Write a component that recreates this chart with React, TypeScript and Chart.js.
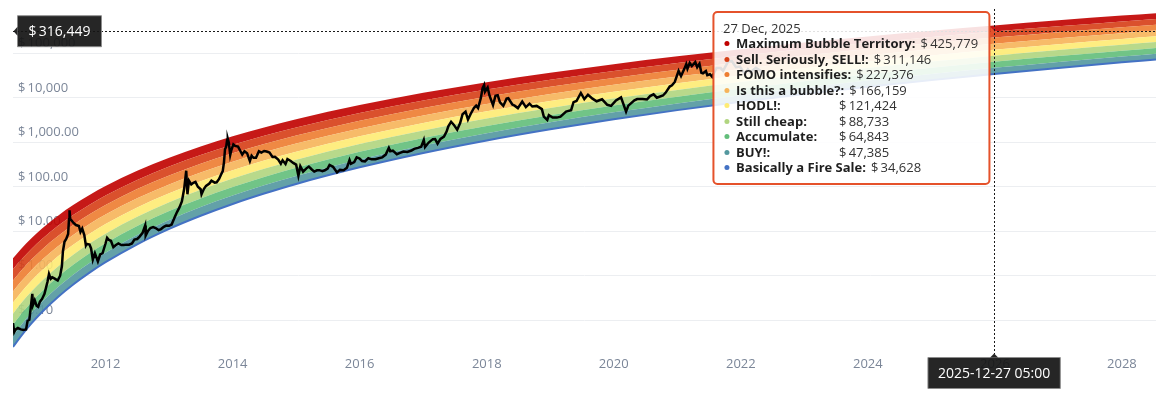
import React, { useEffect, useRef, useState } from "react";
import { Chart, registerables } from "chart.js";

Chart.register(...registerables);

const FONT = "'Open Sans', 'Noto Sans', sans-serif";

// ---- Rainbow band boundary values ----
const bandDates = [
  "2010-07-18", "2010-09-01", "2010-11-01", "2011-01-01", "2011-04-01", "2011-07-01", "2011-10-01",
  "2012-01-01", "2012-07-01", "2013-01-01", "2013-07-01", "2014-01-01", "2014-07-01", "2015-01-01",
  "2016-01-01", "2017-01-01", "2018-01-01", "2019-01-01", "2020-01-01", "2021-01-01", "2022-01-01",
  "2023-01-01", "2024-01-01", "2025-01-01", "2025-12-27", "2027-01-01", "2028-01-01", "2028-07-15",
];
const fireSale = [0.025, 0.0433, 0.0843, 0.152, 0.327, 0.641, 1.17, 2.01, 5.09, 11.3, 22.3, 41.1, 70.4, 116, 274, 577, 1104, 1966, 3306, 5311, 8193, 12227, 17734, 25117, 34628, 47250, 63112, 73259];
const buy = [0.0444, 0.0762, 0.146, 0.261, 0.553, 1.07, 1.94, 3.29, 8.19, 17.9, 34.9, 63.6, 108, 176, 411, 851, 1610, 2836, 4725, 7524, 11514, 17056, 24569, 34575, 47385, 64289, 85413, 98874];
const accumulate = [0.0788, 0.134, 0.254, 0.449, 0.937, 1.79, 3.21, 5.39, 13.2, 28.4, 54.7, 98.6, 166, 267, 614, 1256, 2347, 4092, 6751, 10657, 16180, 23792, 34038, 47595, 64843, 87471, 115595, 133442];
const stillCheap = [0.14, 0.236, 0.441, 0.771, 1.59, 3.0, 5.3, 8.84, 21.2, 45.1, 85.7, 153, 254, 406, 919, 1854, 3422, 5904, 9648, 15097, 22737, 33187, 47156, 65514, 88733, 119012, 156441, 180103];
const hodl = [0.248, 0.414, 0.767, 1.32, 2.69, 5.02, 8.77, 14.5, 34.2, 71.5, 134, 237, 390, 618, 1374, 2736, 4990, 8518, 13786, 21385, 31951, 46293, 65330, 90182, 121424, 161930, 211723, 243077];
const isBubble = [0.441, 0.728, 1.33, 2.27, 4.55, 8.39, 14.5, 23.7, 55.1, 113, 210, 367, 598, 939, 2056, 4037, 7277, 12288, 19700, 30292, 44900, 64576, 90507, 124139, 166159, 220323, 286537, 328066];
const fomo = [0.784, 1.28, 2.31, 3.91, 7.71, 14.0, 24.0, 38.8, 88.7, 180, 330, 568, 918, 1427, 3076, 5958, 10610, 17729, 28150, 42910, 63095, 90079, 125385, 170884, 227376, 299767, 387787, 442777];
const sell = [1.39, 2.25, 4.01, 6.71, 13.1, 23.5, 39.7, 63.6, 143, 286, 517, 880, 1408, 2169, 4602, 8791, 15471, 25577, 40225, 60782, 88665, 125651, 173713, 235230, 311146, 407864, 524811, 597587];
const maxBubble = [2.47, 3.95, 6.97, 11.5, 22.1, 39.3, 65.7, 104, 230, 453, 810, 1364, 2159, 3297, 6885, 12973, 22559, 36900, 57480, 86100, 124596, 175276, 240660, 323797, 425779, 554940, 710252, 806531];

const bandNames = [
  "Basically a Fire Sale", "BUY!", "Accumulate", "Still cheap", "HODL!",
  "Is this a bubble?", "FOMO intensifies", "Sell. Seriously, SELL!", "Maximum Bubble Territory",
];
const bandColors = ["#4472c4", "#54989f", "#63be7b", "#b1d580", "#feeb74", "#f6b45a", "#ed7d31", "#d64018", "#c00200"];
const bandSeries = [fireSale, buy, accumulate, stillCheap, hodl, isBubble, fomo, sell, maxBubble];

// ---- BTC price ----
const btcDates = [
  "2010-07-18", "2010-07-25", "2010-08-01", "2010-08-15", "2010-09-01", "2010-09-15", "2010-10-01", "2010-10-10",
  "2010-10-20", "2010-10-28", "2010-11-06", "2010-11-10", "2010-11-20", "2010-12-01", "2010-12-10", "2010-12-20",
  "2011-01-01", "2011-01-15", "2011-02-01", "2011-02-10", "2011-02-20", "2011-03-01", "2011-03-15", "2011-04-01",
  "2011-04-15", "2011-04-25", "2011-05-01", "2011-05-10", "2011-05-20", "2011-05-31", "2011-06-05", "2011-06-08",
  "2011-06-12", "2011-06-20", "2011-07-01", "2011-07-15", "2011-08-01", "2011-08-10", "2011-08-20", "2011-09-01",
  "2011-09-10", "2011-09-15", "2011-10-01", "2011-10-10", "2011-10-20", "2011-11-01", "2011-11-18", "2011-12-01",
  "2011-12-15", "2012-01-01", "2012-01-10", "2012-01-20", "2012-02-01", "2012-02-15", "2012-03-01", "2012-03-15",
  "2012-04-01", "2012-04-15", "2012-05-01", "2012-05-15", "2012-06-01", "2012-06-15", "2012-07-01", "2012-07-15",
  "2012-08-01", "2012-08-16", "2012-08-19", "2012-09-01", "2012-09-15", "2012-10-01", "2012-10-15", "2012-11-01",
  "2012-11-15", "2012-12-01", "2012-12-15", "2013-01-01", "2013-01-15", "2013-02-01", "2013-02-15", "2013-03-01",
  "2013-03-15", "2013-03-28", "2013-04-09", "2013-04-16", "2013-04-25", "2013-05-08", "2013-05-20", "2013-06-01",
  "2013-06-15", "2013-07-01", "2013-07-06", "2013-07-20", "2013-08-01", "2013-08-20", "2013-09-01", "2013-09-20",
  "2013-10-01", "2013-10-15", "2013-10-25", "2013-11-05", "2013-11-12", "2013-11-18", "2013-11-25", "2013-11-30",
  "2013-12-04", "2013-12-10", "2013-12-18", "2013-12-25", "2014-01-05", "2014-01-15", "2014-02-01", "2014-02-15",
  "2014-02-25", "2014-03-10", "2014-03-25", "2014-04-10", "2014-04-20", "2014-05-01", "2014-05-15", "2014-06-01",
  "2014-06-15", "2014-07-01", "2014-07-15", "2014-08-01", "2014-08-18", "2014-09-01", "2014-09-20", "2014-10-05",
  "2014-10-15", "2014-11-01", "2014-11-12", "2014-12-01", "2014-12-15", "2015-01-01", "2015-01-14", "2015-01-25",
  "2015-02-10", "2015-03-01", "2015-03-15", "2015-04-01", "2015-04-15", "2015-05-01", "2015-05-15", "2015-06-01",
  "2015-06-15", "2015-07-01", "2015-07-12", "2015-08-01", "2015-08-24", "2015-09-10", "2015-10-01", "2015-10-20",
  "2015-11-04", "2015-11-12", "2015-12-01", "2015-12-15", "2016-01-01", "2016-01-15", "2016-02-01", "2016-02-20",
  "2016-03-10", "2016-04-01", "2016-04-20", "2016-05-10", "2016-05-30", "2016-06-17", "2016-06-25", "2016-07-10",
  "2016-08-02", "2016-08-20", "2016-09-10", "2016-10-01", "2016-10-25", "2016-11-10", "2016-12-01", "2016-12-20",
  "2017-01-04", "2017-01-11", "2017-02-01", "2017-02-25", "2017-03-10", "2017-03-24", "2017-04-10", "2017-04-30",
  "2017-05-15", "2017-05-25", "2017-06-10", "2017-06-25", "2017-07-15", "2017-08-01", "2017-08-15", "2017-09-01",
  "2017-09-15", "2017-10-01", "2017-10-20", "2017-11-01", "2017-11-12", "2017-11-28", "2017-12-08", "2017-12-17",
  "2017-12-22", "2018-01-06", "2018-01-17", "2018-02-06", "2018-02-20", "2018-03-05", "2018-03-18", "2018-04-06",
  "2018-04-25", "2018-05-05", "2018-05-28", "2018-06-10", "2018-06-29", "2018-07-24", "2018-08-14", "2018-09-04",
  "2018-09-20", "2018-10-15", "2018-11-14", "2018-11-25", "2018-12-15", "2018-12-24", "2019-01-15", "2019-02-08",
  "2019-03-01", "2019-04-02", "2019-05-01", "2019-05-15", "2019-06-01", "2019-06-26", "2019-07-16", "2019-08-06",
  "2019-09-01", "2019-09-25", "2019-10-26", "2019-11-25", "2019-12-17", "2020-01-14", "2020-02-12", "2020-03-12",
  "2020-03-25", "2020-04-29", "2020-05-15", "2020-06-15", "2020-07-10", "2020-07-28", "2020-08-17", "2020-09-05",
  "2020-10-10", "2020-10-25", "2020-11-18", "2020-12-01", "2020-12-17", "2021-01-08", "2021-01-22", "2021-02-10",
  "2021-02-21", "2021-02-28", "2021-03-13", "2021-03-25", "2021-04-14", "2021-04-25", "2021-05-08", "2021-05-19",
  "2021-05-28", "2021-06-14", "2021-06-22", "2021-07-07", "2021-07-20", "2021-08-14", "2021-09-07", "2021-09-21",
  "2021-10-20", "2021-11-10", "2021-12-04", "2021-12-27", "2022-01-22", "2022-02-10", "2022-02-24", "2022-03-28",
  "2022-04-25", "2022-05-10",
];
const btcPrices = [
  0.086, 0.054, 0.061, 0.067, 0.062, 0.06, 0.062, 0.097,
  0.102, 0.19, 0.39, 0.22, 0.28, 0.21, 0.2, 0.26,
  0.3, 0.39, 0.72, 1.09, 0.85, 0.92, 0.86, 0.78,
  1.0, 1.63, 3.5, 5.8, 6.7, 8.7, 18.5, 29.6,
  19.0, 17.5, 15.4, 13.8, 13.1, 9.6, 11.5, 8.2,
  4.8, 5.2, 5.0, 4.1, 2.3, 3.2, 2.1, 3.0,
  3.2, 5.3, 7.1, 6.4, 6.1, 4.4, 4.9, 5.3,
  4.9, 4.9, 5.0, 5.0, 5.3, 6.5, 6.7, 7.6,
  9.2, 13.5, 8.0, 10.2, 11.8, 12.4, 11.8, 10.6,
  11.2, 12.6, 13.4, 13.3, 14.2, 20.4, 27.0, 34.3,
  47.0, 89, 230, 68, 137, 113, 123, 129,
  100, 88, 68, 90, 105, 118, 137, 124,
  126, 150, 185, 225, 355, 700, 800, 1130,
  1200, 980, 520, 680, 900, 830, 800, 630,
  530, 630, 570, 380, 500, 450, 450, 630,
  590, 640, 620, 590, 470, 475, 410, 330,
  395, 325, 420, 380, 345, 315, 178, 290,
  220, 260, 285, 245, 220, 235, 237, 225,
  235, 258, 310, 282, 210, 240, 237, 270,
  400, 330, 360, 460, 433, 380, 372, 440,
  415, 416, 440, 460, 530, 750, 630, 650,
  540, 580, 620, 610, 655, 715, 750, 800,
  1130, 780, 990, 1180, 1190, 935, 1200, 1350,
  1750, 2300, 2900, 2500, 1930, 2730, 4300, 4900,
  3250, 4400, 6000, 6700, 5900, 9900, 16500, 19500,
  13800, 17100, 11200, 6900, 11200, 11500, 7900, 6600,
  9600, 9800, 7100, 6700, 5900, 8300, 6200, 7400,
  6400, 6600, 5600, 3800, 3200, 4100, 3600, 3600,
  3800, 4900, 5300, 8000, 8500, 12900, 9400, 11800,
  9600, 8400, 9300, 7000, 6600, 8800, 10300, 4900,
  6700, 8800, 9400, 9400, 9200, 11000, 12000, 10100,
  11300, 13000, 18000, 19200, 22800, 40500, 31000, 45000,
  57500, 45200, 61000, 52000, 63500, 49000, 58500, 36700,
  35700, 40000, 32500, 34000, 29800, 47100, 46800, 40500,
  65900, 67500, 49000, 50700, 35000, 44000, 37500, 47400,
  40400, 31000,
];

// ---- Axes ----
const xTickYears = [2012, 2014, 2016, 2018, 2020, 2022, 2024, 2026, 2028];
const yTickValues = [0.1, 1, 10, 100, 1000, 10000, 100000];
const yTickLabels = ["$\u20090.10", "$\u20091.00", "$\u200910.00", "$\u2009100.00", "$\u20091,000.00", "$\u200910,000", "$\u2009100,000"];
const xStart = "2010-07-18";
const xEnd = "2028-07-15";
const yMin = 0.0213;
const yMax = 1000000;

// ---- Crosshair / tooltip ----
const crosshairTime = "2025-12-27T05:00:00Z";
const crosshairPrice = 316449;
const crosshairDateLabel = "2025-12-27 05:00";
const tooltipDate = "2025-12-27";
const tooltipTitle = "27 Dec, 2025";

const ts = (d: string) => Date.parse(d + "T00:00:00Z");
const fmtMoney = (v: number) => "$\u2009" + Math.round(v).toLocaleString("en-US");

function rgba(hex: string, a: number) {
  const n = parseInt(hex.slice(1), 16);
  return `rgba(${(n >> 16) & 255},${(n >> 8) & 255},${n & 255},${a})`;
}

const crosshairPlugin = {
  id: "crosshair",
  afterDatasetsDraw(chart: any) {
    const { ctx, chartArea, scales } = chart;
    const x = Math.round(scales.x.getPixelForValue(Date.parse(crosshairTime))) + 0.5;
    const y = Math.round(scales.y.getPixelForValue(crosshairPrice)) + 0.5;
    ctx.save();
    ctx.strokeStyle = "#1a1a1a";
    ctx.lineWidth = 1;
    ctx.setLineDash([2, 2]);
    ctx.beginPath();
    ctx.moveTo(x, chartArea.top);
    ctx.lineTo(x, chartArea.bottom + 4);
    ctx.moveTo(chartArea.left, y);
    ctx.lineTo(chartArea.right, y);
    ctx.stroke();
    ctx.restore();
  },
  afterDraw(chart: any) {
    const { ctx, chartArea, scales } = chart;
    const x = scales.x.getPixelForValue(Date.parse(crosshairTime));
    const y = scales.y.getPixelForValue(crosshairPrice);
    ctx.save();
    ctx.font = `14px ${FONT}`;
    ctx.textBaseline = "middle";
    // price label
    const pText = fmtMoney(crosshairPrice);
    const pw = ctx.measureText(pText).width + 22;
    const bx = chartArea.left + 4.5;
    const bh = 31;
    ctx.fillStyle = "rgba(22,22,22,0.93)";
    ctx.strokeStyle = "rgba(140,140,140,0.9)";
    ctx.lineWidth = 1;
    ctx.beginPath();
    ctx.rect(bx, y - bh / 2, pw, bh);
    ctx.fill();
    ctx.stroke();
    ctx.beginPath();
    ctx.moveTo(chartArea.left + 0.5, y);
    ctx.lineTo(bx, y - 4.5);
    ctx.lineTo(bx, y + 4.5);
    ctx.closePath();
    ctx.fill();
    ctx.fillStyle = "#ffffff";
    ctx.textAlign = "left";
    ctx.fillText(pText, bx + 11, y + 1);
    // date label
    const dw = ctx.measureText(crosshairDateLabel).width + 20;
    const dy = chartArea.bottom + 7.5;
    const dx = x - dw / 2;
    ctx.fillStyle = "rgba(22,22,22,0.93)";
    ctx.beginPath();
    ctx.rect(dx, dy, dw, bh);
    ctx.fill();
    ctx.stroke();
    ctx.beginPath();
    ctx.moveTo(x, dy - 4);
    ctx.lineTo(x - 4, dy);
    ctx.lineTo(x + 4, dy);
    ctx.closePath();
    ctx.fill();
    ctx.fillStyle = "#ffffff";
    ctx.textAlign = "center";
    ctx.fillText(crosshairDateLabel, x, dy + bh / 2 + 1);
    ctx.restore();
  },
};

export default function App() {
  const canvasRef = useRef<HTMLCanvasElement | null>(null);
  const [tipX, setTipX] = useState<number | null>(null);

  useEffect(() => {
    if (!canvasRef.current) return;
    const bandDatasets = bandSeries.map((series, i) => ({
      label: bandNames[i],
      data: series.map((v, j) => ({ x: ts(bandDates[j]), y: v })),
      borderColor: i === 0 ? bandColors[0] : "rgba(0,0,0,0)",
      borderWidth: i === 0 ? 2 : 1,
      backgroundColor: rgba(bandColors[i], 0.91),
      fill: i === 0 ? false : "-1",
      pointRadius: 0,
      cubicInterpolationMode: "monotone",
      order: 1,
    }));
    const priceDataset = {
      label: "BTC",
      data: btcPrices.map((v, j) => ({ x: ts(btcDates[j]), y: v })),
      borderColor: "#000000",
      borderWidth: 2.5,
      pointRadius: 0,
      fill: false,
      tension: 0,
      order: 0,
    };
    const chart = new Chart(canvasRef.current, {
      type: "line",
      data: { datasets: [...bandDatasets, priceDataset] as any },
      options: {
        animation: false,
        responsive: true,
        maintainAspectRatio: false,
        devicePixelRatio: 1,
        events: [],
        parsing: false as any,
        layout: { padding: { top: 1, left: 0, right: 0, bottom: 0 } },
        plugins: { legend: { display: false }, tooltip: { enabled: false } },
        scales: {
          x: {
            type: "linear",
            min: ts(xStart),
            max: ts(xEnd),
            grid: { display: false, drawTicks: false },
            border: { display: false },
            afterBuildTicks: (scale: any) => {
              scale.ticks = xTickYears.map((yr) => ({ value: Date.UTC(yr, 0, 1) }));
            },
            afterFit: (scale: any) => {
              scale.height = 43;
              scale.paddingLeft = 0;
              scale.paddingRight = 0;
            },
            ticks: {
              autoSkip: false,
              maxRotation: 0,
              padding: 6,
              color: "#7b8698",
              font: { family: FONT, size: 13 },
              callback: (v: any) => String(new Date(Number(v)).getUTCFullYear()),
            },
          },
          y: {
            type: "logarithmic",
            min: yMin,
            max: yMax,
            grid: { color: "#eceef1", drawTicks: false },
            border: { display: false },
            afterBuildTicks: (scale: any) => {
              scale.ticks = yTickValues.map((v) => ({ value: v }));
            },
            afterFit: (scale: any) => {
              scale.width = 5;
              scale.paddingTop = 0;
              scale.paddingBottom = 0;
            },
            ticks: {
              mirror: true,
              padding: 5,
              labelOffset: -10,
              autoSkip: false,
              color: "#7b8698",
              font: { family: FONT, size: 13 },
              callback: (v: any) => {
                const i = yTickValues.findIndex((t) => Math.abs(t - Number(v)) / t < 1e-6);
                return i >= 0 ? yTickLabels[i] : "";
              },
            },
          },
        },
      } as any,
      plugins: [crosshairPlugin],
    });
    setTipX(chart.scales.x.getPixelForValue(Date.parse(crosshairTime)));
    return () => chart.destroy();
  }, []);

  const idx = bandDates.indexOf(tooltipDate);
  const rows = bandSeries
    .map((s, i) => ({ name: bandNames[i], color: bandColors[i], value: s[idx] }))
    .reverse();

  return (
    <div style={{ position: "relative", width: "100%", height: 385 }}>
      <canvas ref={canvasRef} />
      {tipX !== null && (
        <div
          style={{
            position: "absolute",
            left: tipX - 4,
            top: 2.7,
            transform: "translateX(-100%)",
            background: "rgba(255,255,255,0.87)",
            border: "2px solid #e5522b",
            borderRadius: 5,
            padding: "7px 10px 7px 8.5px",
            fontFamily: FONT,
            fontSize: 13,
            color: "#333",
            whiteSpace: "nowrap",
            boxSizing: "border-box",
          }}
        >
          <div
            style={{
              position: "absolute",
              right: -7,
              top: 14.5,
              width: 0,
              height: 0,
              borderTop: "5px solid transparent",
              borderBottom: "5px solid transparent",
              borderLeft: "5px solid #e5522b",
            }}
          />
          <div style={{ lineHeight: "16px", height: 16, marginBottom: 0.5 }}>{tooltipTitle}</div>
          {rows.map((r) => (
            <div key={r.name} style={{ display: "flex", alignItems: "center", height: 15.5, lineHeight: "15.5px" }}>
              <span
                style={{
                  display: "inline-block",
                  width: 5,
                  height: 5,
                  borderRadius: "50%",
                  background: r.color,
                  marginLeft: 1.5,
                  marginRight: 6.5,
                }}
              />
              <span style={{ display: "inline-block", fontWeight: 700, color: "#1e1e1e", minWidth: 98, marginRight: 5 }}>
                {r.name}:
              </span>
              <span>{fmtMoney(r.value)}</span>
            </div>
          ))}
        </div>
      )}
    </div>
  );
}
